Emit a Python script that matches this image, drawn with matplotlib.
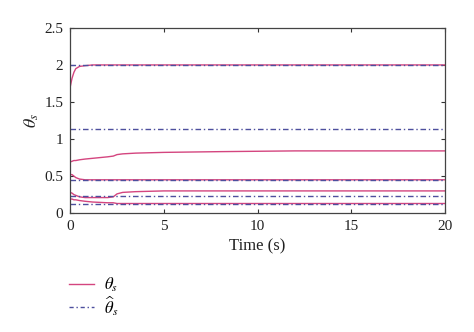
import numpy as np
import matplotlib.pyplot as plt

plt.rcParams['font.family'] = ['Liberation Serif', 'DejaVu Serif']
plt.rcParams['mathtext.fontset'] = 'stix'

# time samples (s) for the true trajectories
t = [0, 0.1, 0.2, 0.3, 0.5, 0.8, 1.2, 2.0, 2.3, 2.5, 2.8, 3.5, 5, 8, 12, 20]

# theta_s trajectories
theta_1 = [1.70, 1.82, 1.90, 1.95, 1.98, 1.99, 2.00, 2.00, 2.00, 2.00, 2.00, 2.00, 2.00, 2.00, 2.00, 2.00]
theta_2 = [0.69, 0.70, 0.71, 0.71, 0.72, 0.73, 0.74, 0.76, 0.77, 0.79, 0.80, 0.81, 0.82, 0.83, 0.84, 0.84]
theta_3 = [0.52, 0.52, 0.50, 0.48, 0.46, 0.45, 0.45, 0.45, 0.45, 0.45, 0.45, 0.45, 0.45, 0.45, 0.45, 0.45]
theta_4 = [0.28, 0.27, 0.25, 0.24, 0.22, 0.21, 0.21, 0.21, 0.22, 0.26, 0.28, 0.29, 0.30, 0.30, 0.30, 0.30]
theta_5 = [0.19, 0.19, 0.18, 0.18, 0.17, 0.16, 0.15, 0.14, 0.14, 0.13, 0.13, 0.13, 0.13, 0.13, 0.13, 0.13]

# estimated values (constant)
theta_hat = [2.00, 1.13, 0.45, 0.23, 0.13]

t_end = 20
pink = '#d4457f'
blue = '#4d4f9e'
dashdot = (4, 2, 1, 2)

fig = plt.figure(figsize=(4.74, 3.32), dpi=100)
ax = fig.add_axes([0.148, 0.358, 0.791, 0.558])

for th in [theta_1, theta_2, theta_3, theta_4, theta_5]:
    ax.plot(t, th, color=pink, lw=1.0)
for v in theta_hat:
    ax.plot([0, t_end], [v, v], color=blue, lw=1.0, dashes=dashdot)

ax.set_xlim(0, 20)
ax.set_ylim(0, 2.5)
ax.set_xticks([0, 5, 10, 15, 20])
ax.set_yticks([0, 0.5, 1, 1.5, 2, 2.5])
ax.set_yticklabels(['0', '0.5', '1', '1.5', '2', '2.5'])
ax.tick_params(direction='in', top=True, right=True, length=3, width=0.8,
               labelsize=11, colors='#333333', labelcolor='#222222')
ax.tick_params(axis='x', pad=5)
ax.tick_params(axis='y', pad=5)
for s in ax.spines.values():
    s.set_color('#444444')
    s.set_linewidth(0.9)

ax.set_xlabel('Time (s)', fontsize=12, color='#222222', labelpad=4)
ax.set_ylabel(r'$\theta_s$', fontsize=13, color='#222222', labelpad=2)

# legend below the axes
h1, = ax.plot([], [], color=pink, lw=1.0)
h2, = ax.plot([], [], color=blue, lw=1.0, dashes=(3, 2, 1, 2))
fig.legend([h1, h2], [r'$\theta_s$', r'$\widehat{\theta}_s$'],
           loc='upper left', bbox_to_anchor=(0.114, 0.215), frameon=False,
           fontsize=12, handlelength=1.5, handletextpad=0.6, labelspacing=0.0)

fig.savefig('out.png', dpi=100)
